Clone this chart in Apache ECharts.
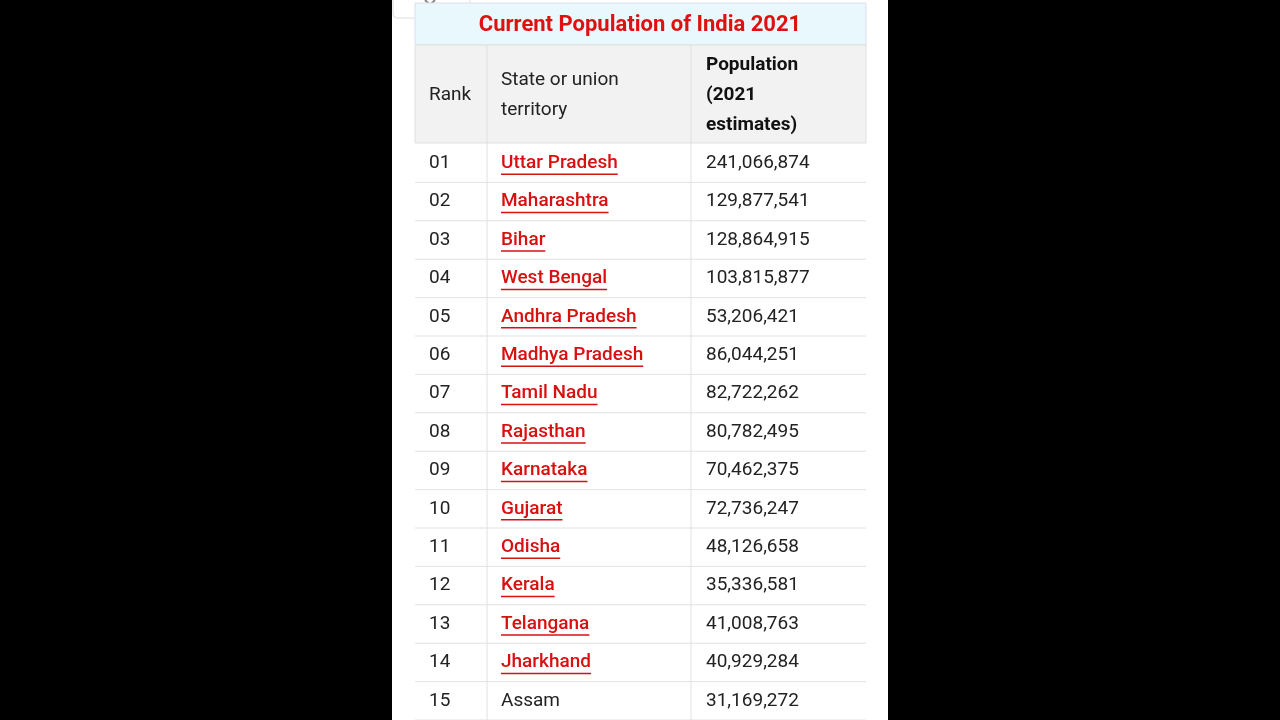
<!DOCTYPE html>
<html><head><meta charset="utf-8">
<script src="https://cdn.jsdelivr.net/npm/echarts@6/dist/echarts.min.js"></script>
<style>html,body{margin:0;padding:0;background:#000}#c{width:1280px;height:720px}</style>
</head><body><div id="c"></div>
<script>
const title = 'Current Population of India 2021';
const ranks = ['01','02','03','04','05','06','07','08','09','10','11','12','13','14','15'];
const states = ['Uttar Pradesh','Maharashtra','Bihar','West Bengal','Andhra Pradesh','Madhya Pradesh','Tamil Nadu','Rajasthan','Karnataka','Gujarat','Odisha','Kerala','Telangana','Jharkhand','Assam'];
const populations = [241066874,129877541,128864915,103815877,53206421,86044251,82722262,80782495,70462375,72736247,48126658,35336581,41008763,40929284,31169272];
const linked = [true,true,true,true,true,true,true,true,true,true,true,true,true,true,false];

const FONT = 'Roboto, "Noto Sans", sans-serif';
const mc = document.createElement('canvas').getContext('2d');
function tw(t, f){ mc.font = f; return mc.measureText(t).width; }
const fmt = n => n.toLocaleString('en-US');

const chart = echarts.init(document.getElementById('c'));
const TL = 415, TW = 451;
chart.setOption({
  backgroundColor: '#000',
  animation: false,
  grid: {left: TL, width: TW, top: 144, bottom: -1},
  xAxis: {type: 'value', min: 0, max: TW, show: false},
  yAxis: {type: 'category', data: ranks, inverse: true, show: false},
  graphic: [
    {type: 'rect', shape: {x: 392, y: 0, width: 496, height: 720}, style: {fill: '#fff'}, z: -10},
    {type: 'rect', shape: {x: 393, y: -6, width: 77, height: 24, r: 4}, style: {fill: '#fff', stroke: '#ddd'}, z: -5},
    {type: 'polyline', shape: {points: [[425, 0], [430, 5], [435, 0]]}, style: {stroke: '#888', lineWidth: 2, fill: null}},
    {type: 'rect', shape: {x: TL, y: 3, width: TW, height: 42}, style: {fill: '#e8f8fd', stroke: '#dde'}},
    {type: 'text', x: 640, y: 25, style: {text: title, fill: '#e01010', font: 'bold 22px ' + FONT, align: 'center', verticalAlign: 'middle'}},
    {type: 'rect', shape: {x: TL, y: 45, width: TW, height: 98}, style: {fill: '#f2f2f2', stroke: '#e0e0e0'}},
    {type: 'line', shape: {x1: 487, y1: 45, x2: 487, y2: 720}, style: {stroke: '#e0e0e0'}, z: 10},
    {type: 'line', shape: {x1: 691, y1: 45, x2: 691, y2: 720}, style: {stroke: '#e0e0e0'}, z: 10},
    {type: 'text', x: 429, y: 95, style: {text: 'Rank', fill: '#222', font: '19px ' + FONT, verticalAlign: 'middle'}},
    {type: 'text', x: 501, y: 95, style: {text: 'State or union\nterritory', fill: '#222', font: '19px ' + FONT, lineHeight: 30, verticalAlign: 'middle'}},
    {type: 'text', x: 706, y: 95, style: {text: 'Population\n(2021\nestimates)', fill: '#111', font: 'bold 19px ' + FONT, lineHeight: 30, verticalAlign: 'middle'}}
  ],
  series: [{
    type: 'custom',
    data: ranks.map((r, i) => [0, i]),
    renderItem: function (params, api) {
      const i = api.value(1);
      const p = api.coord([0, i]);
      const h = api.size([0, 1])[1];
      const y = p[1];
      const x0 = p[0];
      const link = linked[i];
      const sf = (link ? '500 19px ' : '19px ') + FONT;
      const ch = [
        {type: 'line', shape: {x1: x0, y1: y + h / 2, x2: x0 + TW, y2: y + h / 2}, style: {stroke: '#e0e0e0'}},
        {type: 'text', x: x0 + 14, y: y, style: {text: ranks[i], fill: '#222', font: '19px ' + FONT, verticalAlign: 'middle'}},
        {type: 'text', x: x0 + 86, y: y, style: {text: states[i], fill: link ? '#d81010' : '#222', font: sf, verticalAlign: 'middle'}},
        {type: 'text', x: x0 + 291, y: y, style: {text: fmt(populations[i]), fill: '#222', font: '19px ' + FONT, verticalAlign: 'middle'}}
      ];
      if (link) ch.push({type: 'line', shape: {x1: x0 + 86, y1: y + 11, x2: x0 + 86 + tw(states[i], sf), y2: y + 11}, style: {stroke: '#d81010', lineWidth: 1.5}});
      return {type: 'group', children: ch};
    }
  }]
});
</script></body></html>
